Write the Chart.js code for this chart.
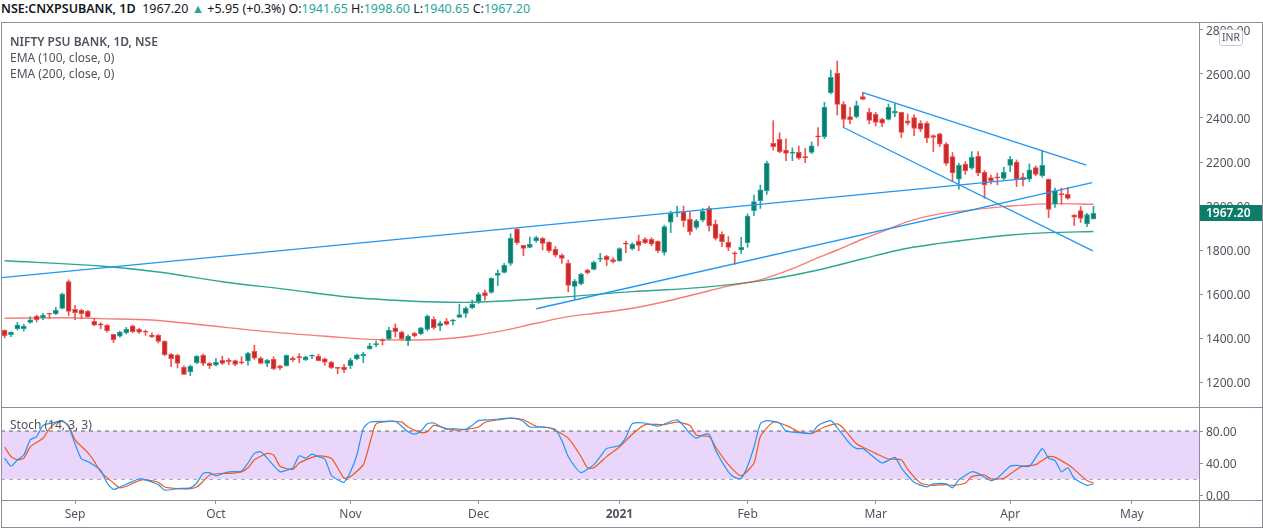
<!DOCTYPE html>
<html>
<head>
<meta charset="utf-8">
<script src="https://cdn.jsdelivr.net/npm/chart.js@4.4.1/dist/chart.umd.min.js"></script>
<style>
  body { margin: 0; background: #fff; width: 1263px; height: 528px; overflow: hidden; position: relative; font-family: 'Noto Sans', sans-serif; }
  canvas { position: absolute; }
  .ln { position: absolute; background: #8c8f99; z-index: 5; }
  .hdr { position: absolute; left: 1px; top: 0; font-size: 12.5px; color: #131722; white-space: nowrap; line-height: 18px; }
  .hdr b { font-weight: 600; }
  .hdr .v { color: #26a69a; }
  .lg { position: absolute; left: 10px; font-size: 12px; color: #50535e; white-space: nowrap; z-index: 6; }
  .inr { position: absolute; left: 1219px; top: 29px; font-size: 10.5px; color: #50535e; border: 1px solid #c9ccd4; border-radius: 3px; padding: 0 2px; background: #fff; z-index: 6; line-height: 15px; }
</style>
</head>
<body>
<div class="hdr"><b>NSE:CNXPSUBANK, 1D</b>&nbsp; 1967.20 <span class="v">&#9650;</span> +5.95 (+0.3%) O:<span class="v">1941.65</span> H:<span class="v">1998.60</span> L:<span class="v">1940.65</span> C:<span class="v">1967.20</span></div>

<canvas id="main" width="1262" height="384" style="left:1px;top:23px"></canvas>
<canvas id="stoch" width="1262" height="120" style="left:1px;top:408px"></canvas>

<div class="lg" style="top:33px;font-weight:600">NIFTY PSU BANK, 1D, NSE</div>
<div class="lg" style="top:49px">EMA (100, close, 0)</div>
<div class="lg" style="top:65px">EMA (200, close, 0)</div>
<div class="lg" style="top:416px">Stoch (14, 3, 3)</div>
<div class="inr">INR</div>

<div class="ln" style="left:1px;top:22px;width:1262px;height:1px"></div>
<div class="ln" style="left:1px;top:407px;width:1262px;height:1px"></div>
<div class="ln" style="left:1px;top:500px;width:1262px;height:1px"></div>
<div class="ln" style="left:1px;top:527px;width:1262px;height:1px"></div>
<div class="ln" style="left:1px;top:22px;width:1px;height:506px"></div>
<div class="ln" style="left:1199px;top:22px;width:1px;height:506px"></div>
<div class="ln" style="left:1262px;top:22px;width:1px;height:506px"></div>

<script>
// daily candles, 17 Aug 2020 .. 23 Apr 2021 (index = trading day)
const opens = [1435,1415,1442,1442,1471,1498,1491,1510,1511,1535,1656,1530,1526,1521,1476,1464,1458,1417,1408,1424,
  1455,1439,1432,1413,1412,1385,1326,1321,1267,1247,1288,1321,1285,1276,1298,1300,1297,1290,1296,1340,
  1308,1285,1303,1273,1274,1309,1313,1302,1317,1318,1305,1290,1263,1268,1274,1306,1320,1352,1370,1390,
  1396,1446,1427,1388,1421,1420,1439,1485,1455,1476,1477,1494,1512,1538,1565,1607,1607,1685,1698,1739,
  1895,1821,1812,1842,1853,1835,1803,1776,1739,1635,1647,1709,1712,1758,1771,1757,1751,1829,1806,1841,
  1848,1848,1839,1789,1926,1967,1974,1939,1903,1936,1989,1918,1871,1835,1785,1800,1833,1979,2024,2070,
  2285,2303,2254,2240,2244,2222,2244,2316,2315,2515,2603,2462,2406,2406,2497,2426,2417,2394,2394,2422,
  2426,2387,2402,2376,2376,2320,2328,2282,2225,2122,2190,2172,2226,2153,2129,2130,2125,2184,2200,2131,
  2122,2175,2138,2122,2008,2054,2053,1959,1979,1919,1941.65];
const highs = [1437,1428,1471,1462,1497,1504,1512,1513,1539,1604,1664,1548,1530,1526,1488,1470,1461,1417,1432,1448,
  1459,1444,1436,1423,1417,1388,1329,1327,1273,1277,1321,1327,1288,1308,1318,1308,1300,1315,1335,1368,
  1314,1303,1315,1277,1323,1315,1329,1317,1323,1326,1309,1294,1265,1279,1308,1327,1335,1376,1386,1396,
  1449,1464,1432,1414,1426,1449,1505,1496,1477,1489,1485,1554,1542,1572,1607,1618,1674,1709,1739,1874,
  1900,1821,1859,1863,1856,1838,1816,1782,1754,1666,1694,1713,1750,1785,1776,1766,1810,1841,1833,1868,
  1857,1856,1842,1913,1976,2000,2000,1974,1939,1989,1998,1936,1883,1861,1792,1858,1964,2050,2095,2204,
  2388,2333,2305,2264,2273,2262,2291,2357,2471,2618,2659,2474,2448,2477,2517,2444,2426,2398,2464,2467,
  2426,2418,2414,2388,2384,2323,2331,2288,2243,2194,2202,2247,2247,2161,2141,2149,2176,2225,2209,2149,
  2191,2182,2250,2122,2081,2081,2085,1961,1997,1967,1998.6];
const lows = [1401,1406,1436,1432,1467,1473,1483,1489,1506,1532,1501,1483,1488,1494,1456,1442,1427,1379,1404,1418,
  1424,1421,1412,1401,1377,1320,1270,1264,1233,1229,1283,1274,1261,1273,1279,1279,1274,1282,1277,1303,
  1283,1270,1256,1256,1272,1293,1288,1297,1306,1296,1276,1261,1238,1243,1261,1302,1288,1349,1361,1368,
  1391,1405,1391,1365,1405,1415,1433,1440,1433,1459,1459,1494,1494,1533,1557,1572,1603,1638,1695,1730,
  1825,1774,1810,1835,1800,1789,1769,1739,1610,1576,1641,1691,1709,1747,1729,1741,1748,1788,1800,1797,
  1829,1819,1788,1777,1879,1952,1906,1868,1895,1929,1886,1845,1815,1797,1735,1785,1812,1956,1989,2053,
  2254,2242,2206,2206,2212,2197,2238,2273,2306,2509,2414,2358,2373,2400,2485,2373,2364,2361,2391,2406,
  2311,2368,2320,2338,2288,2247,2270,2185,2111,2076,2144,2167,2138,2035,2100,2096,2118,2156,2088,2091,
  2111,2137,2131,1947,1993,2008,2031,1911,1925,1906,1940.65];
const closes = [1411,1427,1459,1454,1483,1483,1503,1508,1526,1600,1521,1515,1511,1497,1458,1458,1433,1392,1427,1439,
  1429,1427,1426,1406,1385,1324,1306,1285,1235,1271,1317,1285,1274,1289,1284,1293,1280,1287,1330,1308,
  1285,1299,1261,1265,1321,1302,1311,1314,1319,1297,1290,1265,1262,1256,1300,1323,1326,1364,1371,1388,
  1436,1429,1396,1409,1409,1446,1500,1447,1467,1462,1479,1507,1535,1553,1598,1592,1671,1695,1730,1853,
  1833,1807,1826,1857,1830,1797,1776,1762,1639,1659,1689,1697,1744,1761,1756,1747,1807,1827,1827,1821,
  1833,1826,1797,1906,1967,1974,1933,1883,1933,1977,1911,1853,1838,1812,1783,1812,1954,2020,2073,2194,
  2270,2247,2239,2243,2217,2220,2273,2314,2448,2585,2462,2394,2392,2457,2485,2389,2380,2376,2449,2432,
  2335,2376,2353,2349,2308,2312,2281,2194,2152,2185,2159,2222,2149,2096,2114,2128,2153,2212,2122,2118,
  2164,2144,2185,1985,2070,2052,2035,1949,1944,1961,1967.2];

// moving averages, read at sample bars
const ema100Idx = [0, 10, 15, 23, 31, 41, 51, 57, 62, 66, 72, 77, 83, 88, 93, 98, 103, 108, 113, 118, 123, 127, 130, 134, 138, 141, 146, 151, 156, 164, 170];
const ema100Val = [1490, 1492, 1488, 1482, 1459, 1429, 1406, 1394, 1391, 1392, 1406, 1429, 1467, 1497, 1515, 1535, 1565, 1600, 1636, 1664, 1715, 1765, 1800, 1850, 1895, 1929, 1964, 1982, 1997, 2011, 2008];
const ema200Idx = [0, 15, 24, 34, 44, 54, 60, 66, 72, 78, 88, 98, 109, 119, 127, 134, 137, 141, 146, 151, 157, 163, 170];
const ema200Val = [1751, 1727, 1700, 1656, 1621, 1585, 1573, 1565, 1562, 1568, 1588, 1611, 1630, 1664, 1709, 1760, 1782, 1808, 1830, 1849, 1868, 1879, 1884];

// drawn trend lines: [startIdx, startPrice, endIdx, endPrice]
const trendLines = [
  [-0.45, 1674, 159.8, 2126],
  [83, 1533, 169.8, 2106],
  [133.9, 2517, 168.9, 2186],
  [130.9, 2358, 169.9, 1796],
];

// stochastic %K and %D
const stochKIdx = [0,1,2,3,4,5,6,8,9,10,11,12,13,15,16,17,18,20,21,22,24,25,27,29,30,31,32,33,35,37,38,39,40,41,43,44,45,46,47,48,49,50,51,52,53,54,55,56,57,59,61,62,63,64,65,66,67,69,70,72,73,74,76,79,80,81,82,84,86,87,88,89,90,92,93,94,96,97,98,100,102,105,107,108,109,110,111,113,114,115,116,117,118,119,121,122,124,126,127,129,130,132,133,134,135,137,139,140,142,144,145,147,148,149,151,152,154,155,157,158,160,162,163,164,165,166,167,169,170];
const stochKVal = [46,36,44,50,69,73,87,91,93,85,64,45,42,31,15,7,10,17,20,19,13,6,8,9,15,27,28,24,29,30,40,52,54,46,29,31,34,49,46,51,48,45,25,19,16,29,50,83,91,92,92,86,79,76,80,89,90,82,83,82,87,93,94,96,95,92,85,85,82,68,48,36,28,38,48,58,62,72,89,90,86,94,77,71,75,76,56,29,22,21,36,60,89,93,90,80,78,77,87,93,84,64,58,58,52,40,47,34,16,10,14,14,9,19,29,27,18,21,36,37,36,58,46,43,29,34,21,12,14];
const stochDIdx = [0,1,2,3,4,6,7,8,9,10,11,13,14,15,17,18,19,21,22,24,25,27,29,30,31,32,34,35,37,38,39,41,42,43,45,46,48,49,51,52,53,54,56,57,58,60,62,63,65,66,67,69,71,74,75,77,79,81,83,85,86,88,90,91,92,94,96,98,100,103,105,107,108,110,111,113,115,117,118,120,122,124,126,128,130,131,133,135,136,138,140,141,143,145,147,148,150,151,153,154,156,158,159,161,163,164,166,167,169,170];
const stochDVal = [60,48,44,46,60,71,83,90,92,87,69,53,42,29,15,9,11,18,19,16,10,8,8,10,17,25,27,27,29,34,44,52,50,36,32,40,47,49,46,34,21,23,38,64,89,92,91,85,78,79,87,83,81,85,91,94,96,94,86,84,81,71,48,34,34,48,60,76,88,88,91,87,75,73,60,38,24,40,73,91,87,79,77,85,89,83,64,56,52,45,44,32,15,12,13,12,15,23,25,20,21,32,36,38,48,47,38,32,18,15];
const stochLevels = [80, 20];

// axes
const priceTicks = [1200, 1400, 1600, 1800, 2000, 2200, 2400, 2600, 2800];
const stochTicks = [0, 40, 80];
const monthIdx = [11, 33, 54, 74, 96, 116, 136, 157, 176];
const monthLabels = ['Sep', 'Oct', 'Nov', 'Dec', '2021', 'Feb', 'Mar', 'Apr', 'May'];

const X_MIN = -0.56, X_MAX = 186.48;
const FONT = "'Noto Sans', sans-serif";
const UP = '#26a69a', DOWN = '#ef5350';

const upBody = [], downBody = [], upWick = [], downWick = [];
opens.forEach((o, i) => {
  const up = closes[i] >= o;
  (up ? upBody : downBody).push({ x: i, y: [o, closes[i]] });
  (up ? upWick : downWick).push({ x: i, y: [lows[i], highs[i]] });
});

const pts = (idx, val) => idx.map((x, i) => ({ x, y: val[i] }));

function yAxis(ticks, min, max) {
  return {
    position: 'right', min, max,
    afterBuildTicks: s => { s.ticks = ticks.map(v => ({ value: v })); },
    afterFit: s => { s.width = 64; s.paddingTop = 0; s.paddingBottom = 0; },
    ticks: { callback: v => v.toFixed(2), color: '#50535e', font: { family: FONT, size: 12 }, padding: 3, labelOffset: 1.5 },
    grid: { drawOnChartArea: false, tickLength: 4, color: '#8c8f99' },
    border: { display: false },
  };
}

const lastLabel = {
  id: 'lastLabel',
  afterDraw(chart) {
    const { ctx, chartArea } = chart;
    const last = closes[closes.length - 1];
    const y = Math.round(chart.scales.y.getPixelForValue(last));
    ctx.save();
    ctx.fillStyle = '#0b7d69';
    ctx.fillRect(chartArea.right, y - 8, 64, 16);
    ctx.fillStyle = '#fff';
    ctx.font = `600 12px ${FONT}`;
    ctx.textBaseline = 'middle';
    ctx.fillText(last.toFixed(2), chartArea.right + 7, y + 1);
    ctx.restore();
  }
};

const barCommon = { type: 'bar', grouped: false, borderSkipped: false, parsing: { xAxisKey: 'x', yAxisKey: 'y' } };

new Chart(document.getElementById('main'), {
  type: 'bar',
  data: {
    datasets: [
      { ...barCommon, data: upBody, backgroundColor: '#0b7e6d', borderColor: UP, borderWidth: 1, barThickness: 5, minBarLength: 1, order: 1 },
      { ...barCommon, data: downBody, backgroundColor: '#c62a2a', borderColor: DOWN, borderWidth: 1, barThickness: 5, minBarLength: 1, order: 1 },
      { ...barCommon, data: upWick, backgroundColor: UP, borderWidth: 0, barThickness: 1, order: 2 },
      { ...barCommon, data: downWick, backgroundColor: DOWN, borderWidth: 0, barThickness: 1, order: 2 },
      { type: 'line', data: pts(ema100Idx, ema100Val), borderColor: 'rgba(242,68,60,0.7)', borderWidth: 1.4, pointRadius: 0, cubicInterpolationMode: 'monotone', order: 3 },
      { type: 'line', data: pts(ema200Idx, ema200Val), borderColor: 'rgba(8,150,128,0.85)', borderWidth: 1.4, pointRadius: 0, cubicInterpolationMode: 'monotone', order: 3 },
      ...trendLines.map(t => ({
        type: 'line', data: [{ x: t[0], y: t[1] }, { x: t[2], y: t[3] }],
        borderColor: '#2196f3', borderWidth: 1.3, pointRadius: 0, order: 0,
      })),
    ],
  },
  options: {
    responsive: false, animation: false, events: [],
    layout: { padding: 0 },
    plugins: { legend: { display: false }, tooltip: { enabled: false } },
    scales: {
      x: { type: 'linear', min: X_MIN, max: X_MAX, offset: false, display: false, grid: { offset: false } },
      y: yAxis(priceTicks, 1086.4, 2831.8),
    },
  },
  plugins: [lastLabel],
});

new Chart(document.getElementById('stoch'), {
  type: 'line',
  data: {
    datasets: [
      { data: [{ x: X_MIN, y: stochLevels[0] }, { x: X_MAX, y: stochLevels[0] }], borderColor: '#5d606b', borderWidth: 1, borderDash: [4, 4], pointRadius: 0, fill: '+1', backgroundColor: '#ead5fb', order: 3 },
      { data: [{ x: X_MIN, y: stochLevels[1] }, { x: X_MAX, y: stochLevels[1] }], borderColor: '#5d606b', borderWidth: 1, borderDash: [4, 4], pointRadius: 0, order: 3 },
      { data: pts(stochDIdx, stochDVal), borderColor: '#f4581c', borderWidth: 1.2, pointRadius: 0, tension: 0.2, order: 1 },
      { data: pts(stochKIdx, stochKVal), borderColor: '#2196f3', borderWidth: 1.2, pointRadius: 0, tension: 0.2, order: 0 },
    ],
  },
  options: {
    responsive: false, animation: false, events: [],
    layout: { padding: 0 },
    plugins: { legend: { display: false }, tooltip: { enabled: false } },
    scales: {
      x: {
        type: 'linear', min: X_MIN, max: X_MAX,
        afterBuildTicks: s => { s.ticks = monthIdx.map(v => ({ value: v })); },
        afterFit: s => { s.height = 28; s.paddingLeft = 0; s.paddingRight = 0; },
        ticks: {
          autoSkip: false, maxRotation: 0, padding: 3, color: '#50535e',
          callback: (v, i) => monthLabels[i],
          font: c => ({ family: FONT, size: 12, weight: c.index === 4 ? 'bold' : 'normal' }),
        },
        grid: { drawOnChartArea: false, tickLength: 4, color: '#8c8f99' },
        border: { display: false },
      },
      y: yAxis(stochTicks, -6.25, 108.75),
    },
  },
});
</script>
</body>
</html>
